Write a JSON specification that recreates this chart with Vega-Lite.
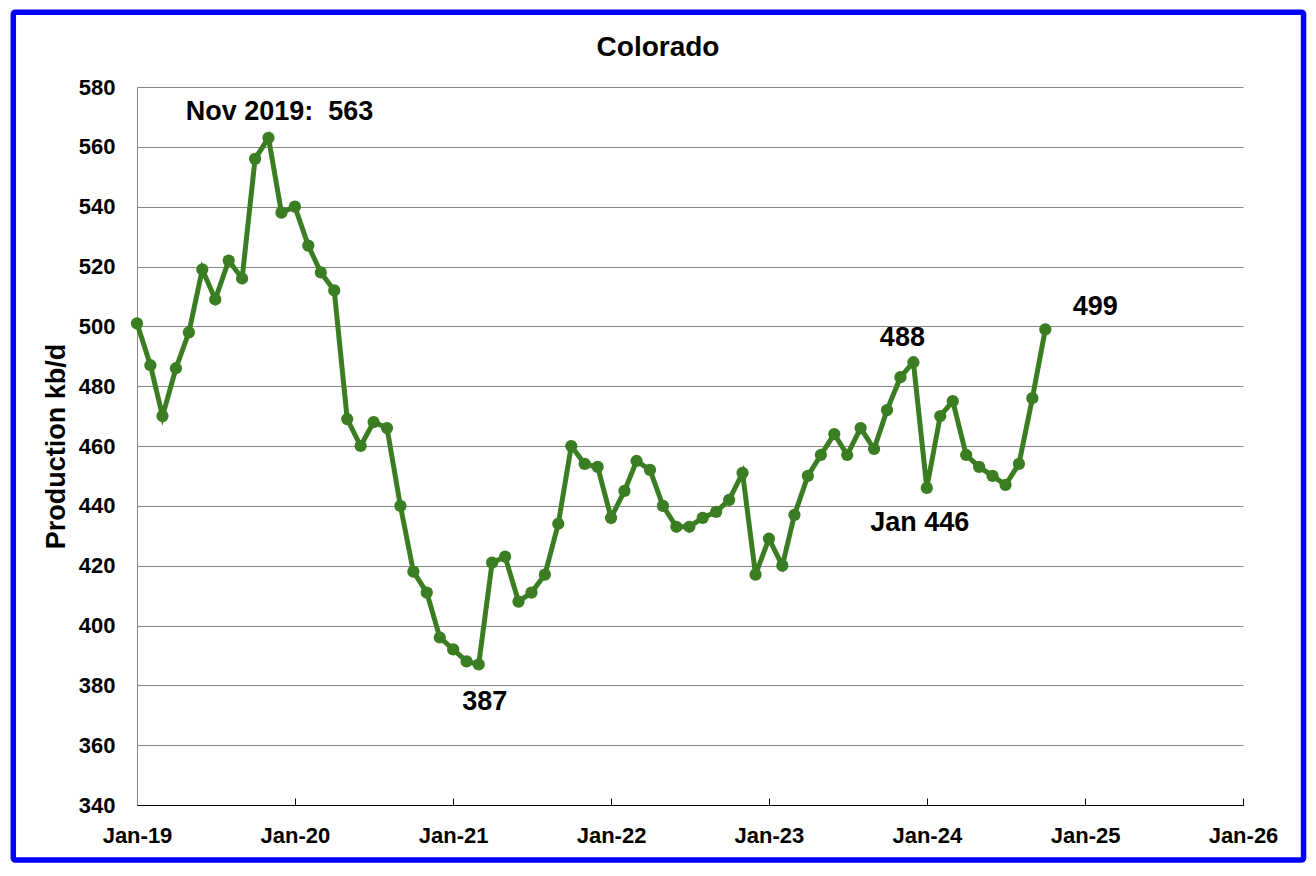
{
  "$schema": "https://vega.github.io/schema/vega-lite/v6.json",
  "autosize": {"type": "none"},
  "padding": {"left": 137, "top": 87, "right": 73, "bottom": 71},
  "width": 1106,
  "height": 718,
  "background": "white",
  "config": {"view": {"stroke": null}},
  "title": {
    "text": "Colorado",
    "font": "Liberation Sans",
    "fontSize": 28,
    "fontWeight": "bold",
    "color": "black",
    "anchor": "middle",
    "dx": -32,
    "dy": 75,
    "baseline": "alphabetic",
    "offset": 0
  },
  "data": {
    "values": [
      {"date": "2019-01-01", "value": 501}, {"date": "2019-02-01", "value": 487}, {"date": "2019-03-01", "value": 470},
      {"date": "2019-04-01", "value": 486}, {"date": "2019-05-01", "value": 498}, {"date": "2019-06-01", "value": 519},
      {"date": "2019-07-01", "value": 509}, {"date": "2019-08-01", "value": 522}, {"date": "2019-09-01", "value": 516},
      {"date": "2019-10-01", "value": 556}, {"date": "2019-11-01", "value": 563}, {"date": "2019-12-01", "value": 538},
      {"date": "2020-01-01", "value": 540}, {"date": "2020-02-01", "value": 527}, {"date": "2020-03-01", "value": 518},
      {"date": "2020-04-01", "value": 512}, {"date": "2020-05-01", "value": 469}, {"date": "2020-06-01", "value": 460},
      {"date": "2020-07-01", "value": 468}, {"date": "2020-08-01", "value": 466}, {"date": "2020-09-01", "value": 440},
      {"date": "2020-10-01", "value": 418}, {"date": "2020-11-01", "value": 411}, {"date": "2020-12-01", "value": 396},
      {"date": "2021-01-01", "value": 392}, {"date": "2021-02-01", "value": 388}, {"date": "2021-03-01", "value": 387},
      {"date": "2021-04-01", "value": 421}, {"date": "2021-05-01", "value": 423}, {"date": "2021-06-01", "value": 408},
      {"date": "2021-07-01", "value": 411}, {"date": "2021-08-01", "value": 417}, {"date": "2021-09-01", "value": 434},
      {"date": "2021-10-01", "value": 460}, {"date": "2021-11-01", "value": 454}, {"date": "2021-12-01", "value": 453},
      {"date": "2022-01-01", "value": 436}, {"date": "2022-02-01", "value": 445}, {"date": "2022-03-01", "value": 455},
      {"date": "2022-04-01", "value": 452}, {"date": "2022-05-01", "value": 440}, {"date": "2022-06-01", "value": 433},
      {"date": "2022-07-01", "value": 433}, {"date": "2022-08-01", "value": 436}, {"date": "2022-09-01", "value": 438},
      {"date": "2022-10-01", "value": 442}, {"date": "2022-11-01", "value": 451}, {"date": "2022-12-01", "value": 417},
      {"date": "2023-01-01", "value": 429}, {"date": "2023-02-01", "value": 420}, {"date": "2023-03-01", "value": 437},
      {"date": "2023-04-01", "value": 450}, {"date": "2023-05-01", "value": 457}, {"date": "2023-06-01", "value": 464},
      {"date": "2023-07-01", "value": 457}, {"date": "2023-08-01", "value": 466}, {"date": "2023-09-01", "value": 459},
      {"date": "2023-10-01", "value": 472}, {"date": "2023-11-01", "value": 483}, {"date": "2023-12-01", "value": 488},
      {"date": "2024-01-01", "value": 446}, {"date": "2024-02-01", "value": 470}, {"date": "2024-03-01", "value": 475},
      {"date": "2024-04-01", "value": 457}, {"date": "2024-05-01", "value": 453}, {"date": "2024-06-01", "value": 450},
      {"date": "2024-07-01", "value": 447}, {"date": "2024-08-01", "value": 454}, {"date": "2024-09-01", "value": 476},
      {"date": "2024-10-01", "value": 499}
    ]
  },
  "encoding": {
    "x": {
      "field": "date",
      "type": "temporal",
      "title": null,
      "scale": {"type": "utc", "domain": [
        {"year": 2019, "month": 1, "date": 1, "utc": true},
        {"year": 2026, "month": 1, "date": 1, "utc": true}
      ]},
      "axis": {
        "format": "%b-%y",
        "values": [
          {"year": 2019, "month": 1, "date": 1, "utc": true},
          {"year": 2020, "month": 1, "date": 1, "utc": true},
          {"year": 2021, "month": 1, "date": 1, "utc": true},
          {"year": 2022, "month": 1, "date": 1, "utc": true},
          {"year": 2023, "month": 1, "date": 1, "utc": true},
          {"year": 2024, "month": 1, "date": 1, "utc": true},
          {"year": 2025, "month": 1, "date": 1, "utc": true},
          {"year": 2026, "month": 1, "date": 1, "utc": true}
        ],
        "grid": false,
        "domainColor": "black",
        "domainWidth": 1,
        "ticks": true,
        "tickColor": "black",
        "tickSize": -7,
        "labelPadding": 27,
        "labelFlush": false,
        "labelOverlap": false,
        "labelBound": false,
        "labelFont": "Liberation Sans",
        "labelFontSize": 22,
        "labelFontWeight": "bold",
        "labelColor": "black"
      }
    },
    "y": {
      "field": "value",
      "type": "quantitative",
      "title": "Production kb/d",
      "scale": {"domain": [340, 580], "nice": false, "zero": false},
      "axis": {
        "values": [340, 360, 380, 400, 420, 440, 460, 480, 500, 520, 540, 560, 580],
        "grid": true,
        "gridColor": "#868686",
        "gridWidth": 1,
        "domainColor": "#868686",
        "domainWidth": 1,
        "ticks": false,
        "labelPadding": 22,
        "labelFont": "Liberation Sans",
        "labelFontSize": 22,
        "labelFontWeight": "bold",
        "labelColor": "black",
        "titleFont": "Liberation Sans",
        "titleFontSize": 27,
        "titleFontWeight": "bold",
        "titleColor": "black",
        "titleX": -81,
        "titleY": 359,
        "titleAngle": -90,
        "titleAlign": "center",
        "titleBaseline": "middle"
      }
    }
  },
  "layer": [
    {
      "data": {"values": [{"from": "2018-03-21", "to": "2026-05-21", "top": 605, "bottom": 321.6}]},
      "mark": {"type": "rect", "clip": false, "filled": false, "stroke": "#0000ff", "strokeWidth": 5.5, "strokeOpacity": 1, "cornerRadius": 2},
      "encoding": {
        "x": {"field": "from", "type": "temporal"},
        "x2": {"field": "to"},
        "y": {"field": "top", "type": "quantitative"},
        "y2": {"field": "bottom"}
      }
    },
    {
      "mark": {
        "type": "line",
        "color": "#3a7d22",
        "strokeWidth": 5,
        "point": {"filled": true, "size": 150, "color": "#3a7d22"}
      }
    },
    {
      "data": {"values": [{"date": "2019-11-01", "value": 563, "label": "Nov 2019: \u00a0563"}]},
      "mark": {"type": "text", "font": "Liberation Sans", "fontSize": 27, "fontWeight": "bold", "color": "black", "align": "center", "baseline": "alphabetic", "dx": 11, "dy": -18},
      "encoding": {"text": {"field": "label"}}
    },
    {
      "data": {"values": [{"date": "2021-03-01", "value": 387, "label": "387"}]},
      "mark": {"type": "text", "font": "Liberation Sans", "fontSize": 27, "fontWeight": "bold", "color": "black", "align": "center", "baseline": "alphabetic", "dx": 6, "dy": 46},
      "encoding": {"text": {"field": "label"}}
    },
    {
      "data": {"values": [{"date": "2023-12-01", "value": 488, "label": "488"}]},
      "mark": {"type": "text", "font": "Liberation Sans", "fontSize": 27, "fontWeight": "bold", "color": "black", "align": "center", "baseline": "alphabetic", "dx": -11, "dy": -16},
      "encoding": {"text": {"field": "label"}}
    },
    {
      "data": {"values": [{"date": "2024-01-01", "value": 446, "label": "Jan 446"}]},
      "mark": {"type": "text", "font": "Liberation Sans", "fontSize": 27, "fontWeight": "bold", "color": "black", "align": "center", "baseline": "alphabetic", "dx": -7, "dy": 43},
      "encoding": {"text": {"field": "label"}}
    },
    {
      "data": {"values": [{"date": "2024-10-01", "value": 499, "label": "499"}]},
      "mark": {"type": "text", "font": "Liberation Sans", "fontSize": 27, "fontWeight": "bold", "color": "black", "align": "center", "baseline": "alphabetic", "dx": 50, "dy": -14},
      "encoding": {"text": {"field": "label"}}
    }
  ]
}
